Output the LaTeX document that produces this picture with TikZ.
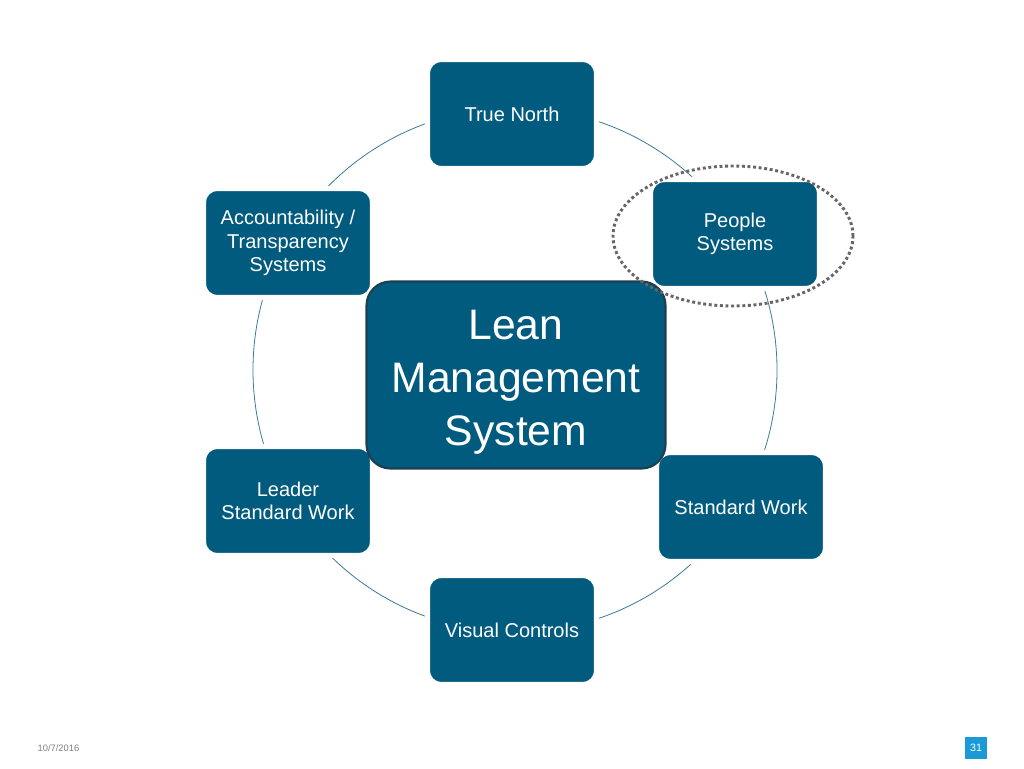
\documentclass[tikz,border=0pt]{standalone}
\usepackage{fontspec}
\setmainfont{Liberation Sans}
\definecolor{teal}{HTML}{005B7F}
\definecolor{edge}{HTML}{1D3F50}
\definecolor{ring}{HTML}{3A7A96}
\begin{document}
\begin{tikzpicture}[x=0.75pt,y=-0.75pt,
  sbox/.style={fill=teal,draw=white,line width=4pt,rounded corners=10pt,minimum width=169pt*0.75,minimum height=109pt*0.75,text=white,align=center,font=\fontsize{15}{17.5}\selectfont,inner sep=0pt},
  cbox/.style={fill=teal,draw=edge,line width=1.6pt,rounded corners=18pt,minimum width=299pt*0.75,minimum height=187pt*0.75,inner sep=0pt},
  ctext/.style={text=white,align=center,font=\fontsize{32}{40}\selectfont,yshift=-5.5pt}]
\useasboundingbox (0,0) rectangle (1024,768);
\draw[ring,line width=0.6pt] (515,370) circle [radius=262*0.75pt];
\node[sbox] (tn) at (512,114) {True North};
\node[sbox] (ps) at (735,234) {People\\Systems};
\node[sbox] (sw) at (741,507) {Standard Work};
\node[sbox] (vc) at (512,630) {Visual Controls};
\node[sbox] (ls) at (288,501) {Leader\\Standard Work};
\node[sbox] (at) at (288,243) {Accountability /\\Transparency\\Systems};
\node[cbox,label={[ctext]center:Lean\\Management\\System}] (lm) at (516,375) {};
\draw[gray!80!black,line width=2.2pt,dotted] (733,236) ellipse [x radius=120*0.75pt,y radius=70*0.75pt];
\node[text=gray,font=\fontsize{7}{8}\selectfont,anchor=west] (dt) at (33,748) {10/7/2016};
\node[fill={rgb,255:red,26;green,154;blue,214},text=white,font=\fontsize{8}{9}\selectfont,minimum size=16pt,inner sep=0pt] (pg) at (976,748) {31};
\end{tikzpicture}
\end{document}
